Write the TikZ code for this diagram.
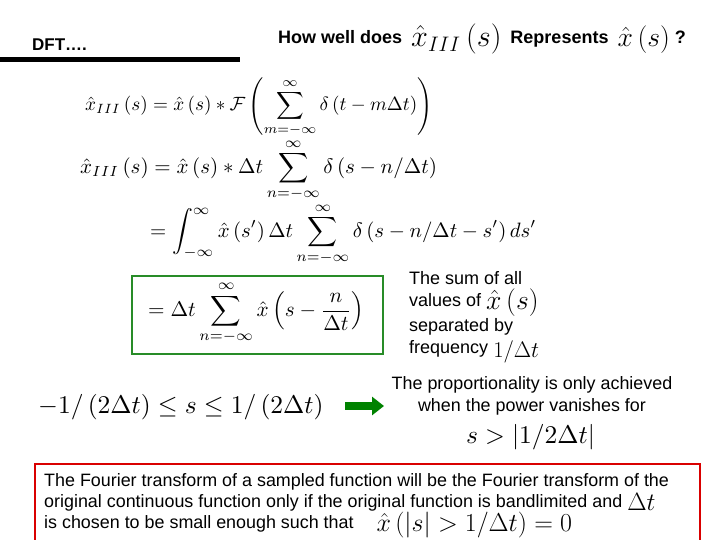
\documentclass[tikz,border=0pt]{standalone}
\usepackage{amsmath}
\usepackage{graphicx}
\usepackage{fontspec}
\setmainfont{Liberation Sans}
\usetikzlibrary{arrows.meta}
\newcommand{\SM}[2]{\scalebox{#1}{$#2$}}
\newcommand{\SD}[2]{\scalebox{#1}{$\displaystyle #2$}}
\begin{document}
\begin{tikzpicture}[x=1pt,y=-1pt,font=\fontsize{10}{12}\selectfont,
  txt/.style={font=\fontsize{17.9}{21}\selectfont,inner sep=0pt},
  eq/.style={inner sep=0pt,anchor=west}]
\useasboundingbox (0,0) rectangle (720,540);
\fill[white] (0,0) rectangle (720,540);
\node[txt,anchor=west,font=\bfseries\fontsize{17}{20}\selectfont] (dft) at (32,45) {DFT\dots.};
\draw[line width=5pt] (0,60) -- (240,60);
\node[txt,anchor=west,font=\bfseries\fontsize{18}{21}\selectfont] (q) at (278,39) {How well does\enspace \raisebox{-3pt}{\SM{1.75}{\hat{x}_{III}\left(s\right)}}\enspace Represents\enspace \raisebox{-3pt}{\SM{1.6}{\hat{x}\left(s\right)}} ?};
\node[eq] (e1) at (85,107) {\SD{1.92}{\hat{x}_{III}\left(s\right)=\hat{x}\left(s\right)*\mathcal{F}\left(\sum_{m=-\infty}^{\infty}\delta\left(t-m\Delta t\right)\right)}};
\node[eq] (e2) at (80,170) {\SD{2.1}{\hat{x}_{III}\left(s\right)=\hat{x}\left(s\right)*\Delta t\sum_{n=-\infty}^{\infty}\delta\left(s-n/\Delta t\right)}};
\node[eq] (e3) at (150,234) {\SD{2.08}{=\int_{-\infty}^{\infty}\hat{x}\left(s'\right)\Delta t\sum_{n=-\infty}^{\infty}\delta\left(s-n/\Delta t-s'\right)ds'}};
\draw[draw={rgb,255:red,40;green,140;blue,40},line width=2pt] (132,276) rectangle (383,354);
\node[eq] (e4) at (148,313) {\SD{2.12}{=\Delta t\sum_{n=-\infty}^{\infty}\hat{x}\left(s-\frac{n}{\Delta t}\right)}};
\node[txt,anchor=north west,align=left,font=\fontsize{18}{21}\selectfont] (sum) at (409,271) {The sum of all\\[1pt]values of \raisebox{-3pt}{\SM{1.6}{\hat{x}\left(s\right)}}\\[1pt]separated by\\[1pt]frequency \raisebox{-4pt}{\SM{1.3}{1/\Delta t}}};
\node[eq] (ineq) at (38,407) {\SM{2.55}{-1/\left(2\Delta t\right)\leq s\leq 1/\left(2\Delta t\right)}};
\draw[-{Triangle[length=12pt,width=18pt]},line width=8pt,draw={rgb,255:red,0;green,130;blue,0}] (345,406) -- (384,406);
\node[txt,align=center] (prop) at (532,396) {The proportionality is only achieved\\[1pt]when the power vanishes for};
\node[eq] (cond) at (466,437) {\SM{2.55}{s>\left|1/2\Delta t\right|}};
\draw[red!85!black,line width=2pt] (35,464) rectangle (700,541);
\node[txt,anchor=north west,align=left] (ft) at (44,473) {The Fourier transform of a sampled function will be the Fourier transform of the\\[0pt]original continuous function only if the original function is bandlimited and \raisebox{-3pt}{\SM{1.45}{\Delta t}}\\[0pt]is chosen to be small enough such that \quad\raisebox{-3pt}{\SM{1.5}{\hat{x}\left(\left|s\right|>1/\Delta t\right)=0}}};
\end{tikzpicture}
\end{document}
